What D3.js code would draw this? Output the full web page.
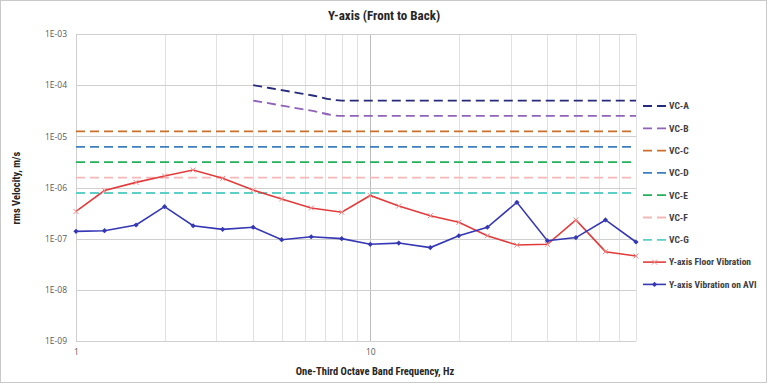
<!DOCTYPE html>
<html>
<head>
<meta charset="utf-8">
<script src="https://cdn.jsdelivr.net/npm/d3@7"></script>
<style>
html,body{margin:0;padding:0;background:#fff;}
svg{display:block;}
</style>
</head>
<body>
<svg id="chart" width="768" height="384"></svg>
<script>
// ---- Data ----
const freqs = [1, 1.25, 1.6, 2, 2.5, 3.15, 4, 5, 6.3, 8, 10, 12.5, 16, 20, 25, 31.5, 40, 50, 63, 80];
const floorVib = [3.4e-7, 8.7e-7, 1.26e-6, 1.68e-6, 2.2e-6, 1.51e-6, 8.9e-7, 5.96e-7, 3.98e-7, 3.28e-7,
                  6.98e-7, 4.35e-7, 2.81e-7, 2.09e-7, 1.14e-7, 7.5e-8, 7.76e-8, 2.32e-7, 5.57e-8, 4.59e-8];
const aviVib = [1.39e-7, 1.43e-7, 1.85e-7, 4.22e-7, 1.79e-7, 1.52e-7, 1.67e-7, 9.55e-8, 1.09e-7, 1.0e-7,
                7.76e-8, 8.2e-8, 6.7e-8, 1.14e-7, 1.67e-7, 5.14e-7, 9.1e-8, 1.05e-7, 2.32e-7, 8.6e-8];
const vcABFreqs = [4, 5, 6.3, 8, 10, 12.5, 16, 20, 25, 31.5, 40, 50, 63, 80];
const vcA = [1.0e-4, 8.0e-5, 6.35e-5, 5e-5, 5e-5, 5e-5, 5e-5, 5e-5, 5e-5, 5e-5, 5e-5, 5e-5, 5e-5, 5e-5];
const vcB = [5.0e-5, 4.0e-5, 3.17e-5, 2.5e-5, 2.5e-5, 2.5e-5, 2.5e-5, 2.5e-5, 2.5e-5, 2.5e-5, 2.5e-5, 2.5e-5, 2.5e-5, 2.5e-5];
const vcFlatFreqs = [1, 80];
const vcC = [1.25e-5, 1.25e-5];
const vcD = [6.25e-6, 6.25e-6];
const vcE = [3.12e-6, 3.12e-6];
const vcF = [1.56e-6, 1.56e-6];
const vcG = [7.8e-7, 7.8e-7];
const seriesNames = ["VC-A", "VC-B", "VC-C", "VC-D", "VC-E", "VC-F", "VC-G", "Y-axis Floor Vibration", "Y-axis Vibration on AVI"];
const yTickValues = [1e-9, 1e-8, 1e-7, 1e-6, 1e-5, 1e-4, 1e-3];
const yTickLabels = ["1E-09", "1E-08", "1E-07", "1E-06", "1E-05", "1E-04", "1E-03"];
const xTickValues = [1, 10];
const xTickLabels = ["1", "10"];
const xGridValues = [2, 3, 4, 5, 6, 7, 8, 9, 10, 20, 30, 40, 50, 60, 70, 80];
const titleText = "Y-axis (Front to Back)";
const xTitle = "One-Third Octave Band Frequency, Hz";
const yTitle = "rms Velocity, m/s";

// ---- Build ----
const narrow = "'Liberation Sans Narrow','Arial Narrow','Roboto Condensed','Liberation Sans',sans-serif";
const tickFont = "'Open Sans','Liberation Sans',sans-serif";
const svg = d3.select("#chart");
const L = 76, R = 636, T = 34, B = 341;
const x = d3.scaleLog().domain([1, 80]).range([L, R]);
const y = d3.scaleLog().domain([1e-9, 1e-3]).range([B, T]);

// outer border
svg.append("rect").attr("x", 0.5).attr("y", 0.5).attr("width", 766).attr("height", 382)
  .attr("fill", "#fff").attr("stroke", "#c9c9c9").attr("stroke-width", 1);

// gridlines
const grid = svg.append("g");
grid.selectAll("line.v").data(xGridValues).enter().append("line")
  .attr("x1", d => Math.round(x(d)) + 0.5).attr("x2", d => Math.round(x(d)) + 0.5)
  .attr("y1", T).attr("y2", B)
  .attr("stroke", d => d === 10 ? "#bcbcbc" : "#e1e1e1").attr("stroke-width", 1);
grid.selectAll("line.h").data(yTickValues).enter().append("line")
  .attr("x1", L).attr("x2", R)
  .attr("y1", d => Math.round(y(d)) + 0.5).attr("y2", d => Math.round(y(d)) + 0.5)
  .attr("stroke", "#cfcfcf").attr("stroke-width", 1);
// axes lines
grid.append("line").attr("x1", L + 0.5).attr("x2", L + 0.5).attr("y1", T).attr("y2", B).attr("stroke", "#d0d0d0");
grid.append("line").attr("x1", L).attr("x2", R).attr("y1", B + 0.5).attr("y2", B + 0.5).attr("stroke", "#d0d0d0");

// axes labels
const yAxis = d3.axisLeft(y).tickValues(yTickValues)
  .tickFormat((d, i) => yTickLabels[i]).tickSize(0).tickPadding(9);
const gy = svg.append("g").attr("transform", `translate(${L},0)`).call(yAxis);
gy.select(".domain").remove();
gy.selectAll("text").attr("font-family", tickFont).attr("font-size", 8.5).attr("fill", "#595959");

const xAxis = d3.axisBottom(x).tickValues(xTickValues)
  .tickFormat((d, i) => xTickLabels[i]).tickSize(0).tickPadding(8);
const gx = svg.append("g").attr("transform", `translate(0,${B})`).call(xAxis);
gx.select(".domain").remove();
gx.selectAll("text").attr("font-family", tickFont).attr("font-size", 8.5).attr("fill", "#595959");

// titles
svg.append("text").attr("x", 384).attr("y", 20).attr("text-anchor", "middle")
  .attr("font-family", narrow).attr("font-weight", "bold").attr("font-size", 13).attr("fill", "#262626")
  .text(titleText);
svg.append("text").attr("x", 375).attr("y", 375).attr("text-anchor", "middle")
  .attr("font-family", narrow).attr("font-weight", "bold").attr("font-size", 10.5).attr("fill", "#262626")
  .text(xTitle);
svg.append("text").attr("transform", "translate(20,188) rotate(-90)").attr("text-anchor", "middle")
  .attr("font-family", narrow).attr("font-weight", "bold").attr("font-size", 10.5).attr("fill", "#262626")
  .text(yTitle);

// series
const vcSeries = [
  {name: seriesNames[0], f: vcABFreqs, v: vcA, color: "#262a7a"},
  {name: seriesNames[1], f: vcABFreqs, v: vcB, color: "#8f63b8"},
  {name: seriesNames[2], f: vcFlatFreqs, v: vcC, color: "#cc6f2a"},
  {name: seriesNames[3], f: vcFlatFreqs, v: vcD, color: "#3c7fbf"},
  {name: seriesNames[4], f: vcFlatFreqs, v: vcE, color: "#22b05a"},
  {name: seriesNames[5], f: vcFlatFreqs, v: vcF, color: "#f5b8b8"},
  {name: seriesNames[6], f: vcFlatFreqs, v: vcG, color: "#5ccfc7"}
];
const line = d3.line().x(d => x(d[0])).y(d => y(d[1]));
const plot = svg.append("g");
vcSeries.forEach(s => {
  const pts = s.f.map((f, i) => [f, s.v[i]]);
  plot.append("path").attr("d", line.curve(d3.curveMonotoneX)(pts))
    .attr("fill", "none").attr("stroke", s.color).attr("stroke-width", 1.8)
    .attr("stroke-dasharray", "9,5");
});
line.curve(d3.curveLinear);

const redColor = "#e23b3b", blueColor = "#3537b4";
const redPts = freqs.map((f, i) => [f, floorVib[i]]);
const bluePts = freqs.map((f, i) => [f, aviVib[i]]);
plot.append("path").attr("d", line(redPts)).attr("fill", "none").attr("stroke", redColor).attr("stroke-width", 1.6);
plot.selectAll("path.rx").data(redPts).enter().append("path")
  .attr("d", d => { const cx = x(d[0]), cy = y(d[1]), r = 2.5; return `M${cx-r},${cy-r}L${cx+r},${cy+r}M${cx-r},${cy+r}L${cx+r},${cy-r}`; })
  .attr("stroke", "#f08a8a").attr("stroke-width", 1).attr("fill", "none");
plot.append("path").attr("d", line(bluePts)).attr("fill", "none").attr("stroke", blueColor).attr("stroke-width", 1.6);
plot.selectAll("path.bd").data(bluePts).enter().append("path")
  .attr("d", d => { const cx = x(d[0]), cy = y(d[1]), r = 2.6; return `M${cx},${cy-r}L${cx+r},${cy}L${cx},${cy+r}L${cx-r},${cy}Z`; })
  .attr("fill", blueColor);

// legend
const legend = svg.append("g");
const legY0 = 106, legDy = 22.3;
const legColors = vcSeries.map(s => s.color).concat([redColor, blueColor]);
seriesNames.forEach((name, i) => {
  const yy = legY0 + i * legDy;
  const g = legend.append("g");
  if (i < 7) {
    g.append("line").attr("x1", 643).attr("x2", 666).attr("y1", yy).attr("y2", yy)
      .attr("stroke", legColors[i]).attr("stroke-width", 1.8).attr("stroke-dasharray", "9,5");
  } else {
    g.append("line").attr("x1", 643).attr("x2", 666).attr("y1", yy).attr("y2", yy)
      .attr("stroke", legColors[i]).attr("stroke-width", 1.6);
    if (i === 7) {
      g.append("path").attr("d", `M652,${yy-2.5}L657,${yy+2.5}M652,${yy+2.5}L657,${yy-2.5}`)
        .attr("stroke", "#f08a8a").attr("stroke-width", 1);
    } else {
      g.append("path").attr("d", `M654.5,${yy-2.6}L657.1,${yy}L654.5,${yy+2.6}L651.9,${yy}Z`).attr("fill", blueColor);
    }
  }
  g.append("text").attr("x", 669).attr("y", yy).attr("dy", "0.35em")
    .attr("font-family", narrow).attr("font-weight", "bold").attr("font-size", 9.5).attr("fill", "#404040")
    .text(name);
});
</script>
</body>
</html>
